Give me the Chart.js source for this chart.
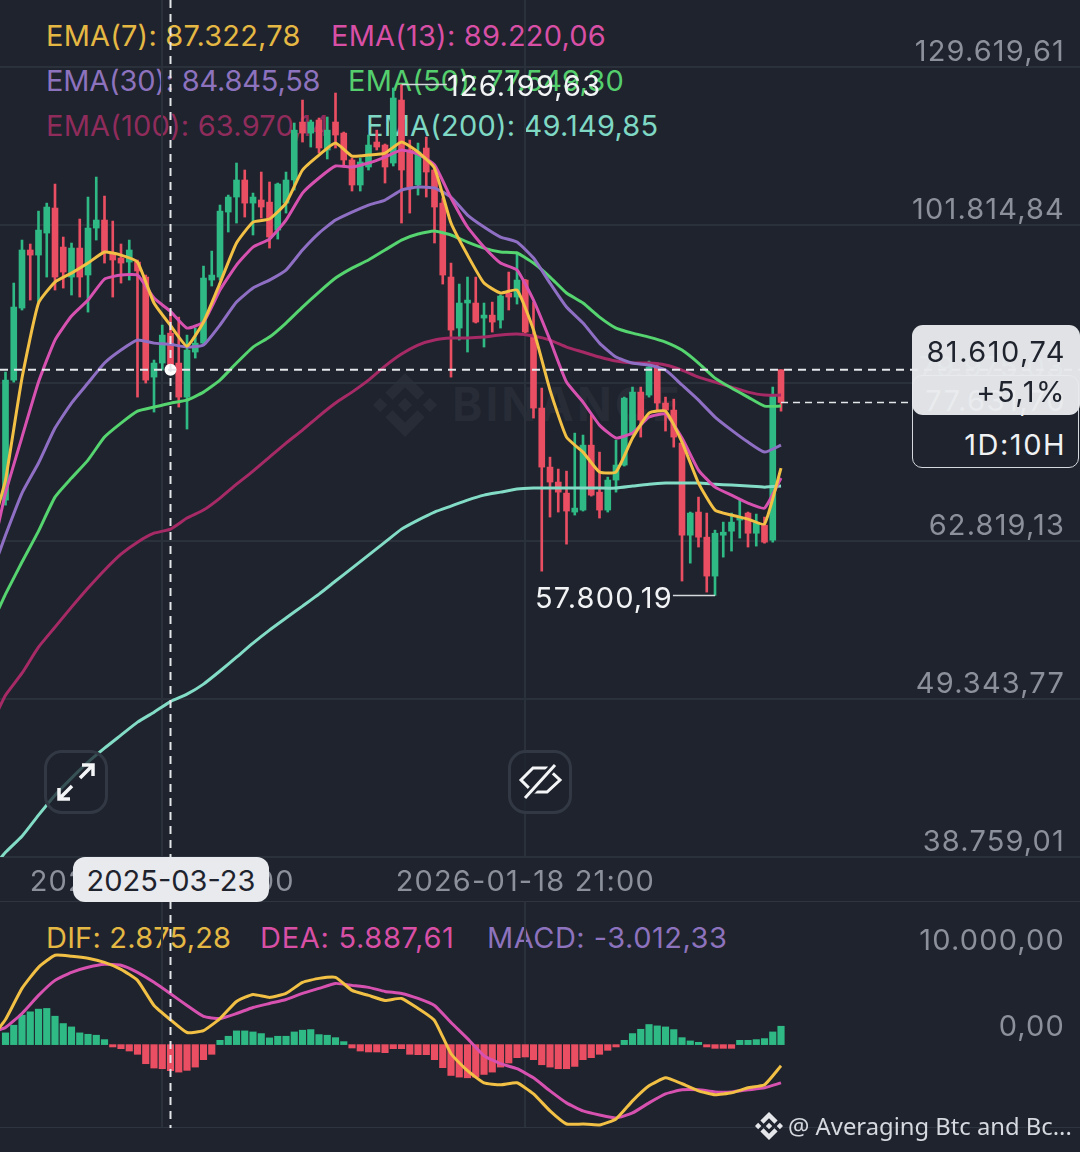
<!DOCTYPE html>
<html>
<head>
<meta charset="utf-8">
<script src="https://cdn.jsdelivr.net/npm/chart.js@4/dist/chart.umd.min.js"></script>
<style>
    html, body { margin: 0; padding: 0; background: #1e232d; }
    body { position: relative; width: 1080px; height: 1152px; overflow: hidden; font-family: Inter, sans-serif; }
    canvas { position: absolute; left: 0; z-index: 2; }
    #mainChart { top: 0; }
    #macdChart { top: 901px; }
    .legend { position: absolute; z-index: 1; font-size: 29px; line-height: 34px; white-space: nowrap; letter-spacing: 0.2px; }
    .divider { position: absolute; left: 0; width: 1080px; top: 901px; height: 1px; background: #2f3540; z-index: 1; }
    .logo-mark { position: absolute; z-index: 0; }
    .mark-text { position: absolute; z-index: 0; left: 452px; top: 376px; font: bold 46px/56px Inter, sans-serif; letter-spacing: 3px; color: #272c37; }
    .btn { position: absolute; z-index: 3; width: 58px; height: 58px; top: 750px; border: 3px solid #333944; border-radius: 18px; background: rgba(30, 35, 45, 0.75); }
    .date-tag { position: absolute; z-index: 3; left: 73px; top: 857px; width: 196px; height: 45px; border-radius: 12px; background: #e8eaed; color: #1e232d; font-size: 29px; line-height: 47px; text-align: center; }
    .outline-box { position: absolute; z-index: 3; left: 912px; top: 375px; width: 165px; height: 91px; border: 1.5px solid #d5d8dc; border-radius: 10px; background: #1e232d; color: #f0f1f3; font-size: 29px; letter-spacing: 1.5px; text-align: right; }
    .outline-box span { position: absolute; right: 12px; white-space: nowrap; }
    .value-box { position: absolute; z-index: 4; left: 912px; top: 325px; width: 168px; height: 90px; border-radius: 11px; background: rgba(232, 234, 237, 0.96); color: #1e232d; font-size: 29px; letter-spacing: 1.5px; }
    .value-box span { position: absolute; right: 14px; white-space: nowrap; }
    .author { position: absolute; z-index: 3; left: 788px; top: 1109px; font: 23.8px/34px "Noto Sans", sans-serif; color: #d5d8de; white-space: nowrap; }
</style>
</head>
<body>

<svg class="logo-mark" style="left:373px;top:373px" width="64" height="64" viewBox="0 0 126.6 126.6"><path fill="#272c37" d="M38.73 53.2l24.59-24.58 24.6 24.6 14.3-14.31L63.32 0 24.42 38.9zM0 63.31l14.3-14.31 14.31 14.31-14.31 14.3zm38.73 10.11l24.59 24.59 24.6-24.6 14.31 14.29-38.9 38.91-38.91-38.88-.02-.02zm59.54-10.11l14.31-14.31 14.3 14.31-14.3 14.3zM77.83 63.3L63.32 48.78 52.59 59.51l-1.24 1.23-2.54 2.54 14.51 14.52 14.51-14.5z"/></svg>
<div class="mark-text">BINANCE</div>

<div class="legend" style="left:46px;top:19px;color:#e5b844">EMA(7): 87.322,78</div>
<div class="legend" style="left:331px;top:19px;color:#d84fa6">EMA(13): 89.220,06</div>
<div class="legend" style="left:46px;top:64px;color:#8d72bd;letter-spacing:-0.2px">EMA(30): 84.845,58</div>
<div class="legend" style="left:348px;top:64px;color:#55cf6e">EMA(50): 77.549,30</div>
<div class="legend" style="left:46px;top:109px;color:#8f2c5c">EMA(100): 63.970,14</div>
<div class="legend" style="left:366px;top:109px;color:#7ed8c4">EMA(200): 49.149,85</div>
<div class="legend" style="left:46px;top:921px;color:#e5b844">DIF: 2.875,28</div>
<div class="legend" style="left:260px;top:921px;color:#d84fa6;letter-spacing:0.7px">DEA: 5.887,61</div>
<div class="legend" style="left:487px;top:921px;color:#8d72bd;letter-spacing:0.5px">MACD: -3.012,33</div>
<div class="divider"></div>

<canvas id="mainChart" width="1080" height="905"></canvas>
<canvas id="macdChart" width="1080" height="227"></canvas>

<div class="btn" style="left:44px">
    <svg width="58" height="58" viewBox="0 0 58 58" fill="none" stroke="#f4f5f6" stroke-width="3.5"><path d="M33 25 L45 13 M35 12 H46 V23 M25 33 L13 45 M12 35 V46 H23"/></svg>
</div>
<div class="btn" style="left:508px">
    <svg width="58" height="58" viewBox="0 0 58 58" fill="none" stroke="#f4f5f6" stroke-width="3"><path d="M10 27 L22 15 H36 L49 27 L36 39 H22 Z"/><path d="M44 12 L14 45" stroke="#1e232d" stroke-width="8"/><path d="M44 12 L14 45"/></svg>
</div>

<div class="date-tag">2025-03-23</div>
<div class="outline-box"><span style="top:7px">77.631,70</span><span style="top:51px">1D:10H</span></div>
<div class="value-box"><span style="top:9px">81.610,74</span><span style="top:49px">+5,1%</span></div>

<svg class="logo-mark" style="left:755px;top:1112px;z-index:3" width="28" height="28" viewBox="0 0 126.6 126.6"><path fill="#e4e6ea" d="M38.73 53.2l24.59-24.58 24.6 24.6 14.3-14.31L63.32 0 24.42 38.9zM0 63.31l14.3-14.31 14.31 14.31-14.31 14.3zm38.73 10.11l24.59 24.59 24.6-24.6 14.31 14.29-38.9 38.91-38.91-38.88-.02-.02zm59.54-10.11l14.31-14.31 14.3 14.31-14.3 14.3zM77.83 63.3L63.32 48.78 52.59 59.51l-1.24 1.23-2.54 2.54 14.51 14.52 14.51-14.5z"/></svg>
<div class="author">@ Averaging Btc and Bc...</div>

<script>
// weekly candles
const candleOpen = [66870,80330,89680,98000,97240,100570,104490,98440,94030,98290,94320,101340,102590,97550,96800,96210,96210,94030,80700,82450,86310,82450,78270,83850,85000,93600,94030,103850,106260,109060,105280,105780,105440,101030,105280,109060,119170,117170,119530,114180,119170,117170,112450,108230,111250,115580,115050,111930,123240,114180,108230,114530,110740,105280,94030,86980,90370,90370,88320,88720,88050,91760,91200,93600,86050,76970,70330,68740,67590,65660,65860,72730,67690,65860,68950,70550,74080,78870,78510,81950,77560,76730,72960,63380,65660,63190,59540,63380,63770,64860,65560,63570,64360,62900,81610.74];
const candleHigh = [81320,93175,99500,98900,104000,105280,108390,99960,99050,102750,106260,109560,106420,102430,98900,99500,96510,94320,82830,87380,89000,88450,86050,86980,95620,97840,104970,106580,111930,110740,106910,110400,108730,108560,110400,118990,123240,119530,119900,120080,124570,117360,112790,112790,116820,117700,115230,125530,126199.63,115930,115400,116470,111080,106100,96060,93030,94030,94030,90370,90500,91480,94750,97700,93700,90500,79360,71410,70120,69900,74080,73860,76150,71960,69260,73290,78270,79480,79480,82700,82450,78270,78030,73290,65660,67180,65560,63870,64660,65560,66870,65660,65460,65160,79480,81610.74];
const candleLow = [66360,80085,89410,90780,90500,94030,92180,92460,91480,91200,89130,99500,96060,91200,93170,93600,78270,79970,76500,81570,81320,77090,74540,83080,84750,92750,93600,100730,102120,103060,100270,102900,98290,99650,103690,107400,115580,114700,113650,112620,114530,111250,107240,107240,110740,114180,108560,111420,102120,103690,106580,106260,99050,93030,80700,85400,83850,87650,84490,86450,86980,89410,90230,86320,75800,59990,65160,65660,62520,65360,65760,67280,65060,65660,67690,70440,73860,73630,78270,76730,74310,72510,59090,60730,62240,58100,57800.19,61290,61860,63100,62240,62330,62610,62710,76610];
const candleClose = [80330,89817,98000,97240,101030,104650,94030,94750,98290,94030,101340,102590,97700,96510,96060,98000,94900,80330,82450,86050,81570,78270,84100,85000,93890,94320,104000,106260,109060,105280,106260,104650,99960,108390,109060,117700,117170,119170,114530,117700,116820,112450,108230,112110,115050,114700,111250,123620,110740,107900,113830,110400,104650,94320,86710,90370,90780,87780,88720,87780,91340,91200,93600,86450,76970,70330,68740,67690,65760,66060,72730,67380,65860,68950,70550,78150,78870,75570,81950,77560,76730,73630,63380,65560,63190,59540,63570,63670,64660,65160,63570,64560,62710,78510,77631.70];

// the moving averages are read every second candle
const lineCandles = [-1,0,2,4,6,8,10,12,14,16,18,20,22,24,26,28,30,32,34,36,38,40,42,44,46,48,50,52,54,56,58,60,62,64,66,68,70,72,74,76,78,80,82,84,86,88,90,92,94];
const ema7 = [65860,68950,80580,90370,93320,94600,96060,97700,97240,96210,90370,87322.78,84620,87780,93170,99050,102270,102750,105280,110740,113300,115400,113130,113300,113650,115580,113830,111080,102120,97240,93170,91760,92180,86710,79110,73630,71960,69800,69800,73520,76380,76610,73070,68630,65860,65360,64960,64470,70220];
const ema13 = [63900,67590,73630,80090,85400,88590,90780,93740,94320,94320,91060,89220.06,86980,87780,92180,95770,98440,99650,102590,106910,109400,111420,111250,111930,112960,114180,113480,111590,106100,101500,98440,96060,95040,90780,85400,80090,77680,74990,73520,74080,75920,76270,73520,70010,68210,67380,66570,66060,69160];
const ema30 = [61200,63380,67590,70770,74650,77560,79970,82450,84100,85400,85000,84845.58,84490,84750,87380,90500,92460,93600,95040,98000,100570,102590,103850,104970,105780,107400,107900,107740,106260,103370,101500,99960,99200,96800,93170,89820,87650,85000,83210,82450,82200,81570,79730,77910,75920,74420,73070,71960,72730];
const ema50 = [56350,57920,60830,63780,67180,69160,71090,73630,75220,76610,77090,77549.30,77910,78870,80330,82450,84490,85790,87650,89820,91900,93890,95330,96510,98000,99500,100420,100880,100270,99200,98290,97700,97550,96060,94030,91760,90370,88450,86980,86310,85790,85140,84100,82450,80580,79360,78270,77200,77200];
const ema100 = [48360,49630,51330,53410,55070,56780,58460,60080,61570,62710,63570,63970.14,65060,65860,67080,68520,69900,71410,72960,74420,76030,77560,78870,80330,82070,83590,84750,85400,85660,85660,85790,86050,86180,85920,85400,84490,83850,83210,82700,82450,82450,82200,81570,80700,80090,79480,78870,78510,78510];
const ema200 = [38450,39040,40010,41320,42600,43720,44800,45770,46690,47630,48360,49149.85,49710,50480,51500,52600,53740,54820,55840,56870,57920,59090,60270,61480,62710,63970,64860,65660,66260,66870,67380,67690,68010,68110,68110,68110,68110,68110,68110,68320,68520,68630,68630,68630,68520,68420,68320,68210,68320];

// MACD pane
const dif = [1630,2900,6510,8950,10350,10230,10000,9530,8720,7440,4530,2875.28,1400,1630,3020,5000,5810,5470,5930,7210,7670,7790,6280,5700,5120,5350,4190,2790,-1050,-3020,-4420,-4650,-4420,-5700,-7670,-9190,-9190,-9300,-8600,-6510,-4770,-3840,-4530,-5350,-5810,-5580,-5000,-4650,-2440];
const dea = [1630,1980,3600,5700,7440,8370,8950,9300,9190,8370,7210,5887.61,4530,3260,3020,3600,4300,4770,5230,5930,6510,7090,6860,6630,6160,5930,5350,4530,2560,700,-1280,-2210,-2790,-3840,-5350,-6740,-7670,-8140,-8490,-7910,-6740,-5700,-5230,-5230,-5470,-5470,-5230,-5000,-4420];
const macdHist = [1360,2250,3410,3800,4110,4190,3290,2440,2050,1360,1200,1090,580,-270,-470,-740,-1120,-2210,-2710,-2790,-3012.33,-3180,-2980,-2600,-1740,-1120,500,970,1590,1590,1470,1280,780,970,970,1470,1670,1740,1160,1090,810,350,-390,-740,-850,-850,-930,-470,-470,-1120,-1160,-1160,-1740,-2670,-3570,-3760,-3840,-3760,-3450,-3180,-2600,-2130,-1510,-1430,-1740,-2330,-2600,-2790,-2790,-2520,-1740,-1510,-1120,-660,-270,500,1280,1780,2330,2170,2050,1740,810,430,270,-270,-430,-430,-430,500,500,580,700,1470,2130];

// axis ticks
const priceTicks = [129619.61, 101814.84, 79975.03, 62819.13, 49343.77, 38759.01];
const macdTicks = [10000, 0];
const dateTickCandles = [19, 63];

const crosshairCandle = 20;
const crosshairPrice = 81610.74;
const lastPrice = 77631.70;
const highCandle = 48, highPrice = 126199.63, highLabelCandle = 53.5;
const lowCandle = 86, lowPrice = 57800.19, lowLabelCandle = 80.9;

const dates = [];
for (let i = 0; i < candleOpen.length; i++) {
    dates.push(new Date(Date.UTC(2024, 10, 3 + i * 7)).toISOString().slice(0, 10));
}

const GREEN = "#2fb985", RED = "#ea4e62", GRID = "#2b313b", TICK = "#8b909a", DASH = "#e4e6ea";
const FONT = "Inter, sans-serif";
const xMin = -0.667, xMax = 130.24;

const fmt = v => v.toLocaleString("de-DE", { minimumFractionDigits: 2, maximumFractionDigits: 2 });
const candleColor = ctx => candleClose[ctx.dataIndex] >= candleOpen[ctx.dataIndex] ? GREEN : RED;
const series = values => values.map((v, i) => ({ x: lineCandles[i], y: v }));
const noPadding = axis => { axis.paddingTop = axis.paddingBottom = axis.paddingLeft = axis.paddingRight = 0; };

function line(values, color, order) {
    return { type: "line", data: series(values), borderColor: color, borderWidth: 3, pointRadius: 0, tension: 0.15, order: order };
}

function guide(points, color, width, dash) {
    return { type: "line", data: points, borderColor: color, borderWidth: width, borderDash: dash, pointRadius: 0, tension: 0, order: 0 };
}

const wideText = {
    id: "wideText",
    beforeDraw(chart) { chart.ctx.letterSpacing = "1.15px"; }
};

const extremeLabels = {
    id: "extremeLabels",
    afterDatasetsDraw(chart) {
        const { ctx, scales } = chart;
        ctx.save();
        ctx.font = "29px " + FONT;
        ctx.fillStyle = "#f2f3f5";
        ctx.textBaseline = "middle";
        ctx.textAlign = "left";
        ctx.fillText(fmt(highPrice), scales.x.getPixelForValue(highLabelCandle), scales.y.getPixelForValue(highPrice) + 3);
        ctx.textAlign = "right";
        ctx.fillText(fmt(lowPrice), scales.x.getPixelForValue(lowLabelCandle), scales.y.getPixelForValue(lowPrice) + 4);
        ctx.restore();
    }
};

const mainYMin = 38759.01, mainYMax = 143597;

new Chart(document.getElementById("mainChart").getContext("2d"), {
    type: "bar",
    data: {
        datasets: [
            {
                data: candleOpen.map((o, i) => ({ x: i, y: [candleLow[i], candleHigh[i]] })),
                backgroundColor: candleColor, barThickness: 2, grouped: false, order: 11
            },
            {
                data: candleOpen.map((o, i) => ({ x: i, y: [o, candleClose[i]] })),
                backgroundColor: candleColor, barThickness: 6, minBarLength: 2, grouped: false, order: 10
            },
            line(ema200, "#82dcc6", 6),
            line(ema100, "#a62a66", 5),
            line(ema50, "#55d46f", 4),
            line(ema30, "#8f6fc4", 3),
            line(ema13, "#d752b0", 2),
            line(ema7, "#f2c045", 1),
            guide([{ x: crosshairCandle, y: mainYMax }, { x: crosshairCandle, y: mainYMin }], DASH, 2, [8, 6]),
            guide([{ x: xMin, y: crosshairPrice }, { x: xMax, y: crosshairPrice }], DASH, 2, [8, 6]),
            guide([{ x: candleOpen.length - 1, y: lastPrice }, { x: xMax, y: lastPrice }], DASH, 1.5, [7, 5]),
            guide([{ x: highCandle, y: highPrice }, { x: highLabelCandle, y: highPrice }], "#d5d8dc", 1.5, []),
            guide([{ x: lowCandle, y: lowPrice }, { x: lowLabelCandle, y: lowPrice }], "#d5d8dc", 1.5, []),
            {
                type: "line", showLine: false, data: [{ x: crosshairCandle, y: crosshairPrice }],
                pointRadius: 6, pointBackgroundColor: "#ffffff", pointBorderWidth: 0, order: 0
            }
        ]
    },
    plugins: [wideText, extremeLabels],
    options: {
        responsive: false,
        animation: false,
        layout: { padding: 0, autoPadding: false },
        plugins: { legend: { display: false }, tooltip: { enabled: false } },
        scales: {
            x: {
                type: "linear", min: xMin, max: xMax, offset: false,
                grid: { color: GRID, lineWidth: 2, offset: false, drawTicks: false },
                border: { display: false },
                afterBuildTicks: axis => { axis.ticks = dateTickCandles.map(v => ({ value: v })); },
                afterFit: axis => { axis.height = 48; noPadding(axis); },
                ticks: {
                    autoSkip: false, maxRotation: 0, padding: 8, color: TICK, font: { family: FONT, size: 29 },
                    callback: v => dates[v] + " 21:00"
                }
            },
            y: {
                type: "logarithmic", position: "right", min: mainYMin, max: mainYMax, bounds: "data",
                grid: { color: GRID, lineWidth: 2, drawTicks: false },
                border: { display: false },
                afterBuildTicks: axis => { axis.ticks = priceTicks.map(v => ({ value: v })); },
                afterFit: axis => { axis.width = 0; noPadding(axis); },
                ticks: {
                    mirror: true, padding: -15, labelOffset: -15, autoSkip: false, color: TICK,
                    font: { family: FONT, size: 29 }, callback: v => fmt(v)
                }
            }
        }
    }
});

const macdYMax = 16628, macdYMin = -9651;

new Chart(document.getElementById("macdChart").getContext("2d"), {
    type: "bar",
    data: {
        datasets: [
            {
                data: macdHist.map((v, i) => ({ x: i, y: v })),
                backgroundColor: macdHist.map(v => v >= 0 ? GREEN : RED),
                barThickness: 6.5, grouped: false, order: 5
            },
            { type: "line", data: series(dea), borderColor: "#d752b0", borderWidth: 3, pointRadius: 0, tension: 0.15, order: 2 },
            { type: "line", data: series(dif), borderColor: "#f2c045", borderWidth: 3, pointRadius: 0, tension: 0.15, order: 1 },
            guide([{ x: crosshairCandle, y: macdYMax }, { x: crosshairCandle, y: macdYMin }], DASH, 2, [8, 6])
        ]
    },
    plugins: [wideText],
    options: {
        responsive: false,
        animation: false,
        layout: { padding: 0, autoPadding: false },
        plugins: { legend: { display: false }, tooltip: { enabled: false } },
        scales: {
            x: {
                type: "linear", min: xMin, max: xMax, offset: false,
                grid: { color: GRID, lineWidth: 2, offset: false, drawTicks: false },
                border: { display: true, color: "#2f3540", width: 2 },
                afterBuildTicks: axis => { axis.ticks = dateTickCandles.map(v => ({ value: v })); },
                afterFit: axis => { axis.height = 0; noPadding(axis); },
                ticks: { display: false }
            },
            y: {
                type: "linear", position: "right", min: macdYMin, max: macdYMax, beginAtZero: false,
                grid: { display: false },
                border: { display: false },
                afterBuildTicks: axis => { axis.ticks = macdTicks.map(v => ({ value: v })); },
                afterFit: axis => { axis.width = 0; noPadding(axis); },
                ticks: {
                    mirror: true, padding: -15, labelOffset: -17, autoSkip: false, color: TICK,
                    font: { family: FONT, size: 29 }, callback: v => fmt(v)
                }
            }
        }
    }
});
</script>
</body>
</html>
